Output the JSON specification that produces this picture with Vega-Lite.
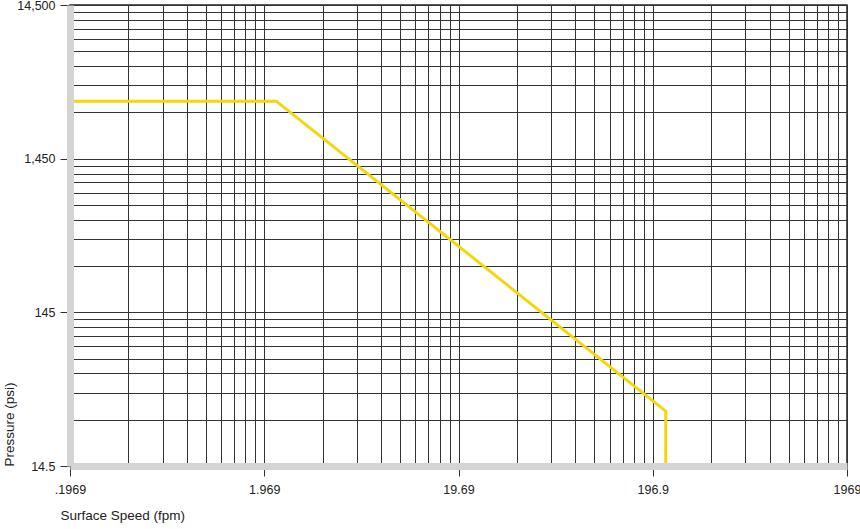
{
  "$schema": "https://vega.github.io/schema/vega-lite/v6.json",
  "description": "Pressure vs surface speed limit curve on log-log axes",
  "width": 777,
  "height": 461,
  "autosize": {"type": "none"},
  "padding": {"left": 70, "top": 5, "right": 13, "bottom": 63},
  "config": {
    "font": "Liberation Sans",
    "view": {"stroke": "#222", "strokeWidth": 1.5}
  },
  "data": {
    "values": [
      {"i": 1, "speed": 0.1969, "pressure": 3434},
      {"i": 2, "speed": 2.27, "pressure": 3434},
      {"i": 3, "speed": 229.7, "pressure": 33.0},
      {"i": 4, "speed": 229.7, "pressure": 14.5}
    ]
  },
  "layer": [
    {
      "mark": {"type": "line", "color": "#f4d60a", "strokeWidth": 3},
      "encoding": {
        "x": {
          "field": "speed",
          "type": "quantitative",
          "scale": {"type": "log", "domain": [0.1969, 1969], "nice": false},
          "axis": {
            "orient": "bottom",
            "grid": true,
            "gridColor": "#333",
            "gridWidth": 1,
            "labels": false,
            "ticks": false,
            "domain": false,
            "title": null,
            "values": [0.1969, 0.3938, 0.5907, 0.7876, 0.9845, 1.1814, 1.3783, 1.5752, 1.7721,
                       1.969, 3.938, 5.907, 7.876, 9.845, 11.814, 13.783, 15.752, 17.721,
                       19.69, 39.38, 59.07, 78.76, 98.45, 118.14, 137.83, 157.52, 177.21,
                       196.9, 393.8, 590.7, 787.6, 984.5, 1181.4, 1378.3, 1575.2, 1772.1, 1969]
          }
        },
        "y": {
          "field": "pressure",
          "type": "quantitative",
          "scale": {"type": "log", "domain": [14.5, 14500], "nice": false},
          "axis": {
            "orient": "left",
            "grid": true,
            "gridColor": "#333",
            "gridWidth": 1,
            "labels": false,
            "ticks": false,
            "domain": false,
            "title": null,
            "values": [14.5, 29, 43.5, 58, 72.5, 87, 101.5, 116, 130.5,
                       145, 290, 435, 580, 725, 870, 1015, 1160, 1305,
                       1450, 2900, 4350, 5800, 7250, 8700, 10150, 11600, 13050, 14500]
          }
        },
        "order": {"field": "i", "type": "quantitative"}
      }
    },
    {
      "mark": {"type": "line", "opacity": 0},
      "encoding": {
        "x": {
          "field": "speed",
          "type": "quantitative",
          "scale": {"type": "log", "domain": [0.1969, 1969], "nice": false},
          "axis": {
            "orient": "bottom",
            "grid": false,
            "values": [0.1969, 1.969, 19.69, 196.9, 1969],
            "labelExpr": "datum.value < 1 ? '.1969' : datum.value < 10 ? '1.969' : datum.value < 100 ? '19.69' : datum.value < 1000 ? '196.9' : '1969'",
            "labelFont": "Liberation Sans",
            "labelFontSize": 12.5,
            "labelColor": "#222",
            "labelBaseline": "alphabetic",
            "labelPadding": 17,
            "labelFlush": false,
            "labelOverlap": false,
            "labelBound": false,
            "tickSize": 10,
            "tickColor": "#333",
            "tickWidth": 1,
            "domainColor": "#d4d4d4",
            "domainWidth": 7,
            "title": "Surface Speed (fpm)",
            "titleFont": "Liberation Sans",
            "titleFontSize": 13.5,
            "titleFontWeight": "normal",
            "titleColor": "#222",
            "titleX": -10,
            "titleY": 53,
            "titleAlign": "left",
            "titleBaseline": "alphabetic",
            "zindex": 1
          }
        },
        "y": {
          "field": "pressure",
          "type": "quantitative",
          "scale": {"type": "log", "domain": [14.5, 14500], "nice": false},
          "axis": {
            "orient": "left",
            "grid": false,
            "values": [14.5, 145, 1450, 14500],
            "format": ",",
            "labelFont": "Liberation Sans",
            "labelFontSize": 12.5,
            "labelColor": "#222",
            "labelPadding": 5,
            "labelFlush": false,
            "labelOverlap": false,
            "labelBound": false,
            "tickSize": 10,
            "tickColor": "#333",
            "tickWidth": 1,
            "domainColor": "#d4d4d4",
            "domainWidth": 7,
            "title": "Pressure (psi)",
            "titleFont": "Liberation Sans",
            "titleFontSize": 13.5,
            "titleFontWeight": "normal",
            "titleColor": "#222",
            "titleAngle": -90,
            "titleX": -57,
            "titleY": 461,
            "titleAlign": "left",
            "titleBaseline": "alphabetic",
            "zindex": 1
          }
        },
        "order": {"field": "i", "type": "quantitative"}
      }
    }
  ],
  "resolve": {"axis": {"x": "independent", "y": "independent"}}
}
